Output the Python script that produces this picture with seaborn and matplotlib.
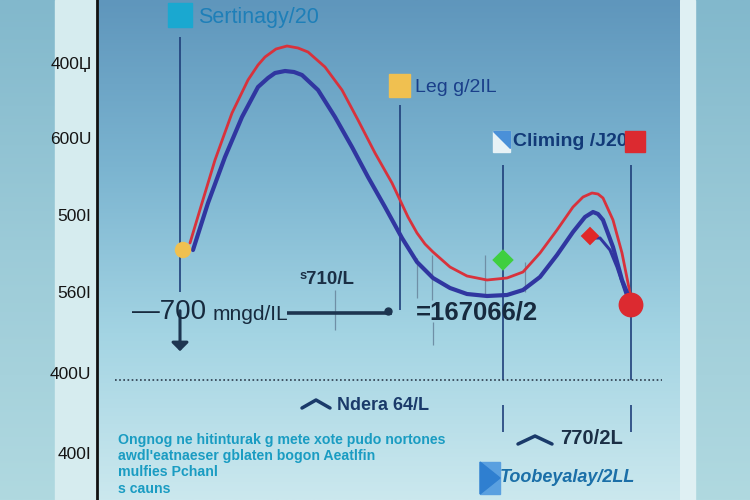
import numpy as np
import pandas as pd
import matplotlib
matplotlib.use("Agg")
import matplotlib.pyplot as plt
import seaborn as sns
from matplotlib.patches import Rectangle, Polygon
from matplotlib.colors import LinearSegmentedColormap

# ---------------- data (x = time position, y = level) ----------------
red_x = [190, 202, 215, 232, 248, 258, 265, 276, 287, 298, 308, 325, 342, 358, 375, 392, 408, 417,
         425, 433, 450, 467, 487, 507, 523, 540, 557, 573, 583, 592, 598, 603, 613, 622, 630, 632]
red_y = [257, 297, 340, 387, 420, 435, 443, 451, 454, 452, 448, 433, 410, 380, 347, 317, 283, 267,
         256, 248, 233, 224, 220, 222, 228, 247, 270, 293, 303, 307, 306, 302, 280, 247, 207, 195]

blue_x = [193, 208, 225, 242, 258, 268, 275, 285, 294, 302, 318, 335, 352, 368, 385, 402, 417,
          433, 450, 467, 487, 507, 523, 540, 557, 573, 585, 593, 598, 603, 613, 622, 630]
blue_y = [250, 297, 343, 383, 413, 422, 427, 429, 428, 425, 410, 383, 353, 323, 293, 262, 238,
          222, 212, 206, 204, 205, 210, 223, 245, 268, 283, 288, 286, 280, 253, 220, 200]

inner_x = [590, 600, 610, 617, 627]
inner_y = [262, 262, 250, 233, 203]

ytick_pos = [495, 455, 387, 300, 235, 149, 84, 38]
ylabel_pos = [437, 362, 285, 208, 127, 47]
ylabel_txt = ["400Џ", "600U", "500I", "560I", "400U", "400I"]

markers_x = [183, 503, 590, 631]
markers_y = [250, 240, 264, 195]

vline_x = [180, 180, 400, 503, 631, 503, 631]
vline_lo = [257, 208, 190, 120, 120, 68, 68]
vline_hi = [463, 248, 395, 335, 335, 95, 95]

faint_x = [335, 417, 432, 433, 485, 525]
faint_lo = [170, 202, 200, 155, 205, 208]
faint_hi = [210, 242, 245, 178, 245, 238]

df = pd.concat([
    pd.DataFrame({"x": red_x, "y": red_y, "s": "red"}),
    pd.DataFrame({"x": blue_x, "y": blue_y, "s": "blue"}),
    pd.DataFrame({"x": inner_x, "y": inner_y, "s": "inner"}),
])

FONT = "Liberation Sans"

# ---------------- figure ----------------
sns.set_style("white")
plt.rcParams["font.family"] = ["DejaVu Sans"]
fig = plt.figure(figsize=(7.5, 5), dpi=100)

# figure background
bg = fig.add_axes([0, 0, 1, 1], zorder=-10)
bg.set_axis_off()
cm_bg = LinearSegmentedColormap.from_list("bg", ["#82b8cc", "#9ccbd8", "#b0d9e0"])
bg.imshow(np.linspace(0, 1, 256).reshape(-1, 1), cmap=cm_bg, aspect="auto",
          extent=[0, 1, 0, 1], origin="upper")
bg.add_patch(Rectangle((55 / 750, 0), 42 / 750, 1, color="#d6ecef"))
bg.add_patch(Rectangle((680 / 750, 0), 15 / 750, 1, color="#dff0f3"))
bg.set_xlim(0, 1); bg.set_ylim(0, 1)

ax = fig.add_axes([97 / 750, 0, 583 / 750, 1])
cm_ax = LinearSegmentedColormap.from_list("ax", ["#5f96bc", "#7bb4d0", "#a3d4e3", "#cbe8ee"])
ax.imshow(np.linspace(0, 1, 256).reshape(-1, 1), cmap=cm_ax, aspect="auto",
          extent=[97, 680, 0, 500], origin="upper", zorder=0)
ax.set_xlim(97, 680)
ax.set_ylim(0, 500)

# curves
sns.lineplot(data=df[df.s == "red"], x="x", y="y", color="#d8323c", lw=2.0, ax=ax,
             sort=False, zorder=4, solid_joinstyle="round", solid_capstyle="round")
sns.lineplot(data=df[df.s == "blue"], x="x", y="y", color="#3036a0", lw=3.0, ax=ax,
             sort=False, zorder=4, solid_joinstyle="round", solid_capstyle="round")
sns.lineplot(data=df[df.s == "inner"], x="x", y="y", color="#3036a0", lw=2.2, ax=ax,
             sort=False, zorder=4, solid_joinstyle="round", solid_capstyle="round")

# vertical guide lines
ax.vlines(vline_x, vline_lo, vline_hi, color="#1f3f7a", lw=1.2, zorder=3)
ax.vlines(faint_x, faint_lo, faint_hi, color="#6f8fa6", lw=0.9, zorder=3)

# dotted baseline
ax.hlines(120, 115, 662, colors="#2a3a4a", lw=1.2, linestyles=(0, (1, 1.5)), zorder=3)

# markers
sns.scatterplot(x=markers_x[:1], y=markers_y[:1], s=140, color="#f0c050", edgecolor="none", ax=ax, zorder=6)
sns.scatterplot(x=markers_x[1:2], y=markers_y[1:2], s=120, marker="D", color="#3fcf3f", edgecolor="none", ax=ax, zorder=6)
sns.scatterplot(x=markers_x[2:3], y=markers_y[2:3], s=90, marker="D", color="#e02828", edgecolor="none", ax=ax, zorder=6)
sns.scatterplot(x=markers_x[3:], y=markers_y[3:], s=320, color="#dc2a30", edgecolor="none", ax=ax, zorder=6)

# horizontal connector line and dot
ax.hlines(187, 287, 392, colors="#1d3550", lw=2.6, zorder=5)
ax.plot([388], [189], marker="o", ms=5, color="#1d3550", zorder=5)
ax.annotate("", xy=(180, 146), xytext=(180, 192),
            arrowprops=dict(arrowstyle="-|>,head_width=0.5,head_length=0.5", color="#1d3550", lw=2.2))

# legend-like labels
ax.add_patch(Rectangle((168, 473), 24, 24, color="#1aa8d0", zorder=6))
ax.text(198, 482, "Sertinagy/20", fontsize=15.5, color="#1e7fb8", va="center", ha="left", zorder=6,
        family=FONT)
ax.add_patch(Rectangle((389, 403), 21, 23, color="#f0c050", zorder=6))
ax.text(415, 412, "Leg g/2IL", fontsize=14, color="#1a3f8a", va="center", ha="left", zorder=6,
        family=FONT)
ax.add_patch(Rectangle((493, 348), 17, 21, color="#e8f2f6", zorder=6))
ax.add_patch(Polygon([(493, 369), (510, 369), (510, 352)], closed=True, color="#4a90d8", zorder=6))
ax.text(513, 358, "Climing /J20", fontsize=14, color="#123a78", va="center", ha="left",
        fontweight="bold", zorder=6, family=FONT)
ax.add_patch(Rectangle((625, 348), 20, 21, color="#dc2a30", zorder=6))

# big labels
ax.text(132, 188, "—700", fontsize=20, color="#172a3e", va="center", ha="left", zorder=6,
        family=FONT)
ax.text(213, 186, "mngd/IL", fontsize=15, color="#172a3e", va="center", ha="left", zorder=6,
        family=FONT)
ax.text(300, 220, "ˢ710/L", fontsize=13.5, color="#1b2f45", va="center", ha="left",
        fontweight="bold", zorder=6, family=FONT)
ax.text(416, 188, "=167066/2", fontsize=18.5, color="#172a3e", va="center", ha="left",
        fontweight="bold", zorder=6, family=FONT)

# chevron labels
ax.plot([302, 316, 330], [92, 100, 92], color="#1a3a6a", lw=2.5, zorder=6)
ax.text(337, 95, "Ndera 64/L", fontsize=13, color="#1a3a6a", va="center", ha="left",
        fontweight="bold", zorder=6, family=FONT)
ax.plot([518, 535, 552], [56, 64, 56], color="#1a3a6a", lw=2.5, zorder=6)
ax.text(560, 61, "770/2L", fontsize=14.5, color="#1b2f45", va="center", ha="left", zorder=6,
        family=FONT, fontweight="bold")

# paragraph
ax.text(118, 67, "Ongnog ne hitinturak g mete xote pudo nortones\n"
                 "awdl'eatnaeser gblaten bogon Aeatlfin\n"
                 "mulfies Pchanl\n"
                 "s cauns",
        fontsize=10.2, color="#1a9cc2", va="top", ha="left", fontweight="bold",
        linespacing=1.2, zorder=6, family=FONT)

# bottom-right tag
ax.add_patch(Rectangle((480, 6), 20, 32, color="#5aa0e0", zorder=6))
ax.add_patch(Polygon([(480, 38), (500, 22), (480, 6)], closed=True, color="#2f7fd0", zorder=6))
ax.text(500, 22, "Toobeyalay/2LL", fontsize=13, color="#1b6fa8", va="center", ha="left",
        fontweight="bold", style="italic", zorder=6, family=FONT)

# axis styling
for s in ["top", "right", "bottom"]:
    ax.spines[s].set_visible(False)
ax.spines["left"].set_color("#111111")
ax.spines["left"].set_linewidth(2)
ax.set_xticks([])
ax.set_yticks(ytick_pos)
ax.set_yticklabels([])
ax.tick_params(axis="y", which="major", direction="in", length=8, width=1.5, color="#111111")
ax.set_yticks(ylabel_pos, minor=True)
ax.set_yticklabels(ylabel_txt, minor=True, fontsize=12.5, color="#151515", family=FONT)
ax.tick_params(axis="y", which="minor", length=0, pad=4)
ax.set_xlabel("")
ax.set_ylabel("")

fig.savefig("out.png", dpi=100)
